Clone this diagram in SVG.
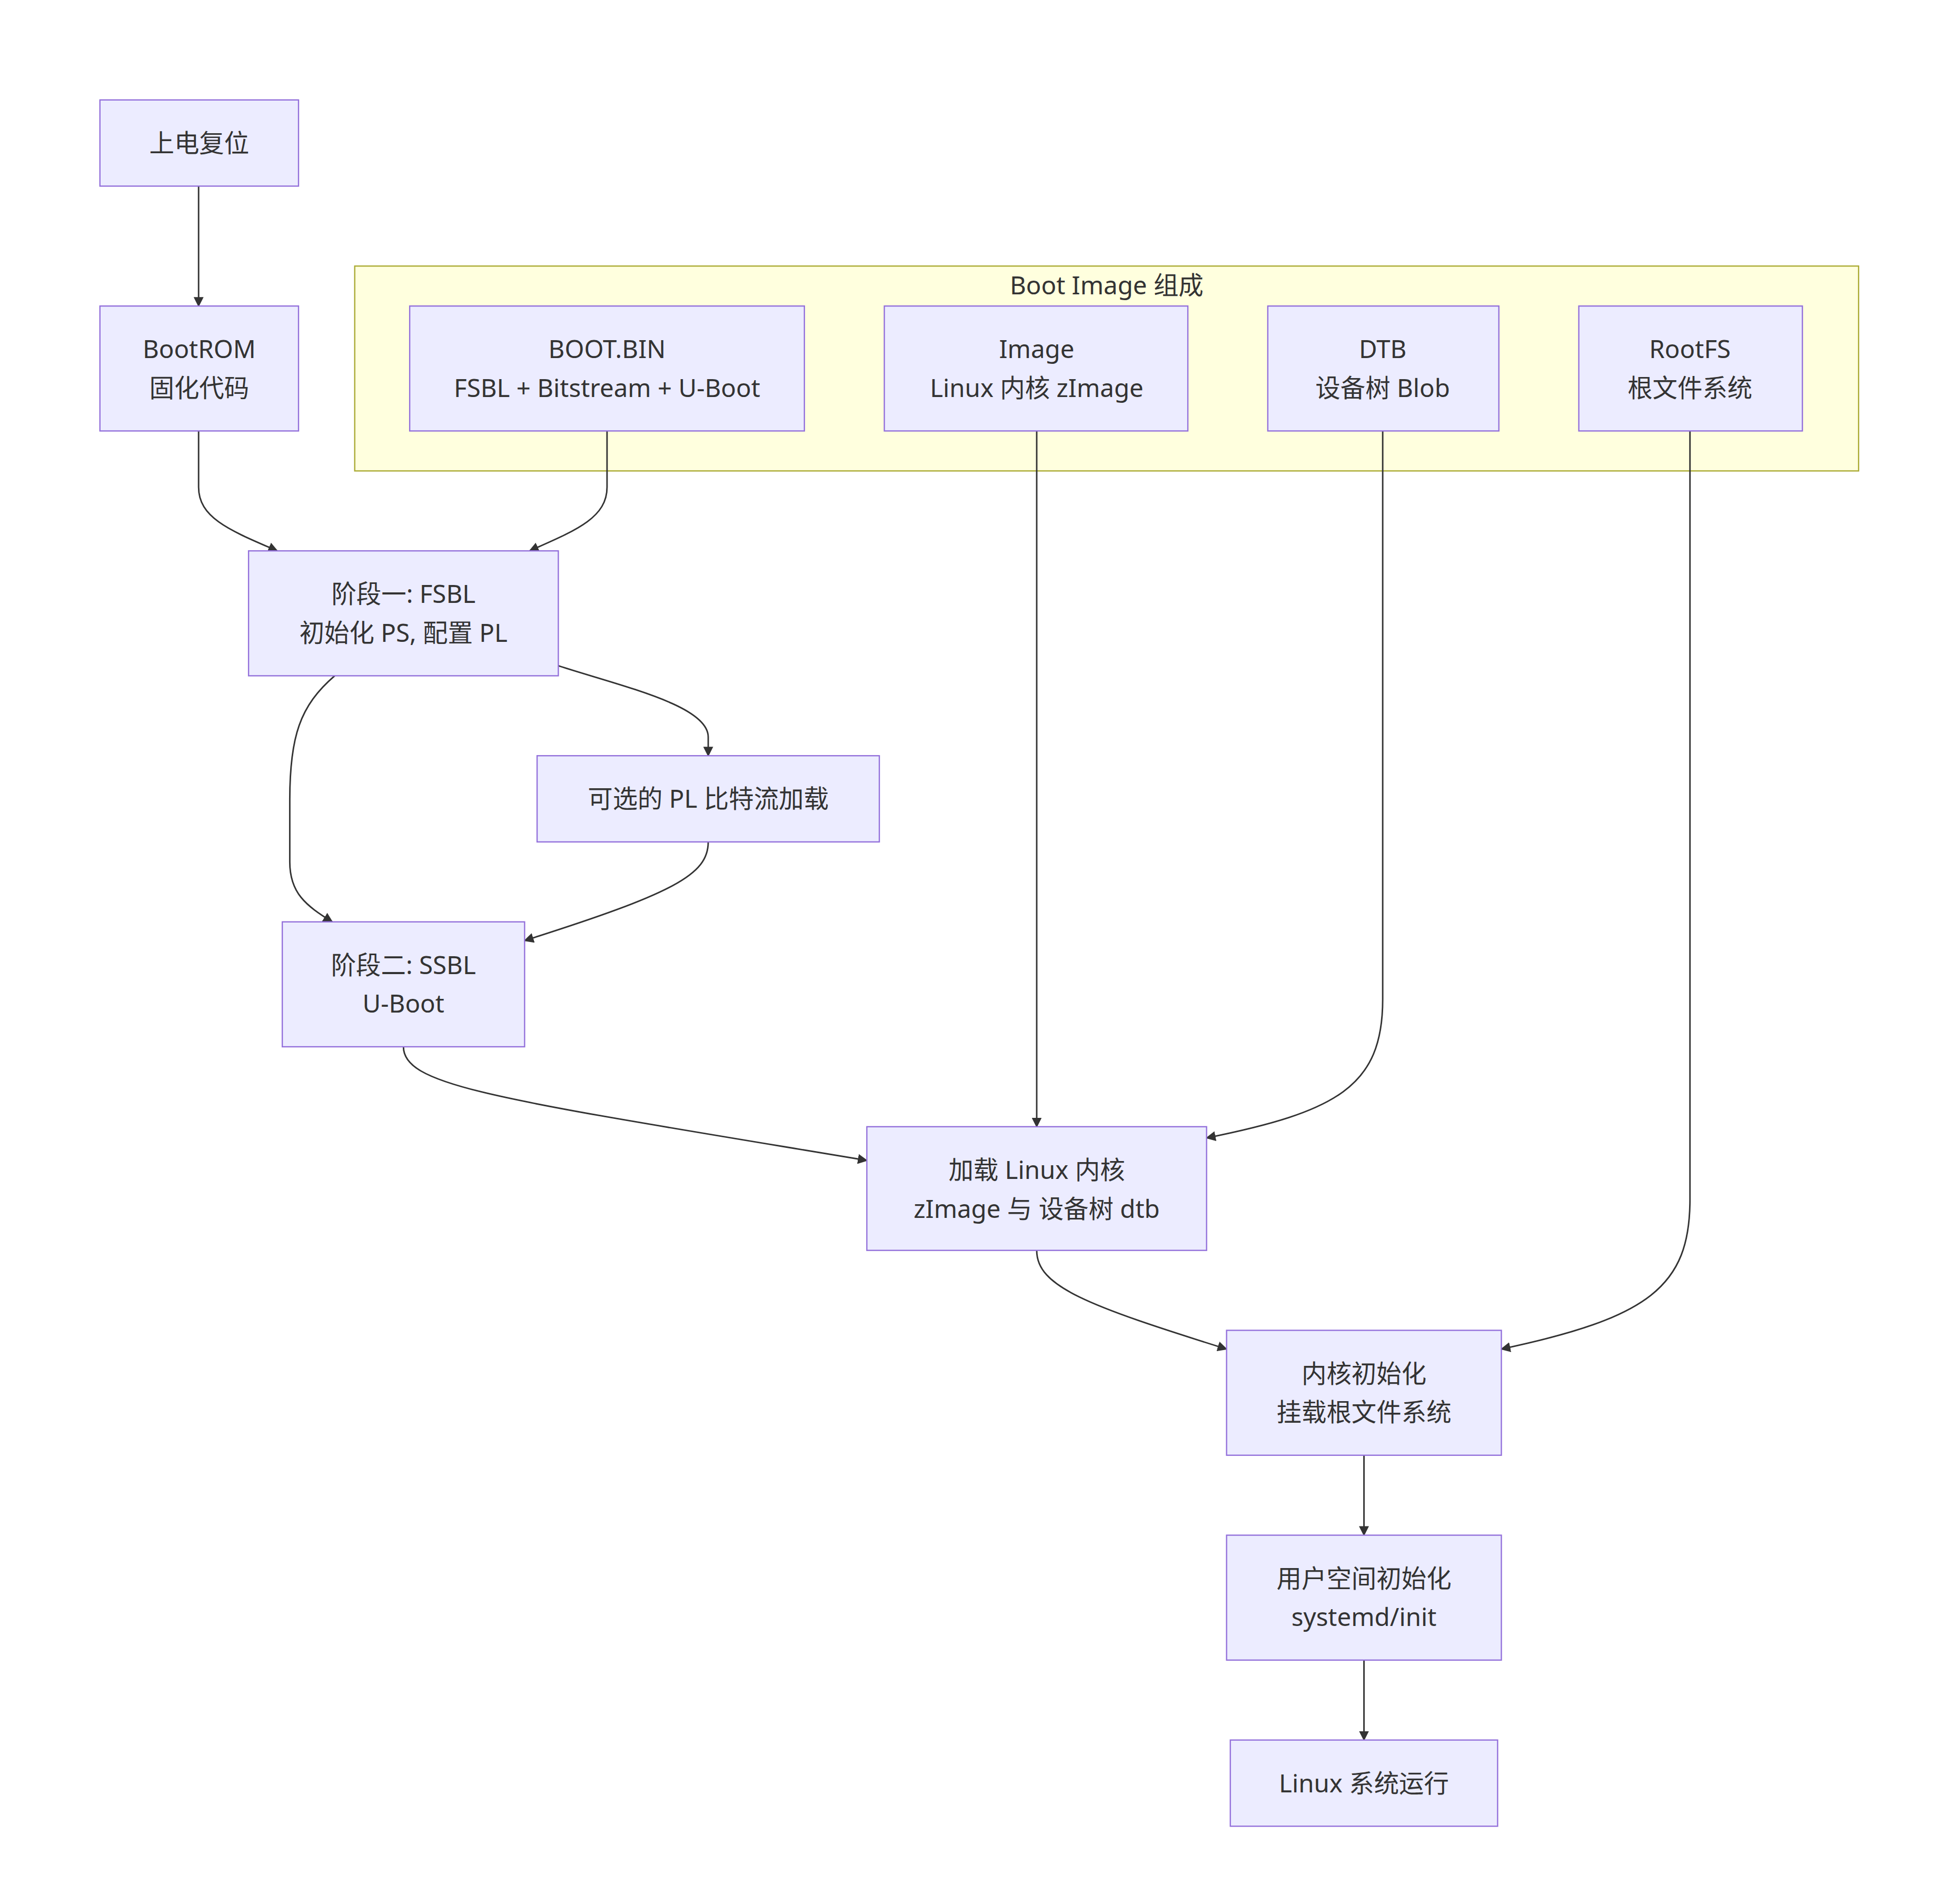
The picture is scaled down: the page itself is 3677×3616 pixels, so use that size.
<svg xmlns="http://www.w3.org/2000/svg" width="3677" height="3616" viewBox="0 0 3677 3616">
<style>
.n{fill:#ECECFF;stroke:#9370DB;stroke-width:1}
.t{font-family:"Noto Sans","Noto Sans CJK SC",sans-serif;font-size:20px;fill:#333;text-anchor:middle;dominant-baseline:central}
.e{fill:none;stroke:#333;stroke-width:1.2}
</style>
<defs><marker id="a" viewBox="0 0 10 10" refX="9" refY="5" markerWidth="8" markerHeight="8" markerUnits="userSpaceOnUse" orient="auto"><path d="M0,0L10,5L0,10z" fill="#333"/></marker></defs>
<rect width="3677" height="3616" fill="#fff"/>
<g transform="scale(2.3723)">
<g id="cluster"><rect x="284" y="213" width="1204" height="164" fill="#ffffde" stroke="#aaaa33" stroke-width="1"/><text class="t" x="886" y="228">Boot Image 组成</text></g>
<g id="edges">
<path class="e" marker-end="url(#a)" d="M159,149L159,245"/>
<path class="e" marker-end="url(#a)" d="M159,345L159,390C159,415 185,425 222,441"/>
<path class="e" marker-end="url(#a)" d="M486,345L486,390C486,415 460,425 424,441"/>
<path class="e" marker-end="url(#a)" d="M268,541C240,565 232,590 232,640L232,690C232,715 245,725 266,738"/>
<path class="e" marker-end="url(#a)" d="M447,533C500,550 567,565 567,590L567,605"/>
<path class="e" marker-end="url(#a)" d="M567,674C567,700 540,715 420,753"/>
<path class="e" marker-end="url(#a)" d="M323,838C323,870 400,880 694,929"/>
<path class="e" marker-end="url(#a)" d="M830,345L830,902"/>
<path class="e" marker-end="url(#a)" d="M1107,345L1107,800C1107,870 1070,890 966,911"/>
<path class="e" marker-end="url(#a)" d="M830,1001C830,1030 870,1045 982,1080"/>
<path class="e" marker-end="url(#a)" d="M1353,345L1353,960C1353,1030 1320,1055 1202,1080"/>
<path class="e" marker-end="url(#a)" d="M1092,1165L1092,1229"/>
<path class="e" marker-end="url(#a)" d="M1092,1329L1092,1393"/>
</g>
<g id="n1"><rect class="n" x="80" y="80" width="159" height="69"/><text class="t" x="159.5" y="114">上电复位</text></g>
<g id="n2"><rect class="n" x="80" y="245" width="159" height="100"/><text class="t" x="159.5" y="279">BootROM</text><text class="t" x="159.5" y="310">固化代码</text></g>
<g id="n3"><rect class="n" x="328" y="245" width="316" height="100"/><text class="t" x="486" y="279">BOOT.BIN</text><text class="t" x="486" y="310">FSBL + Bitstream + U-Boot</text></g>
<g id="n4"><rect class="n" x="708" y="245" width="243" height="100"/><text class="t" x="830" y="279">Image</text><text class="t" x="830" y="310">Linux 内核 zImage</text></g>
<g id="n5"><rect class="n" x="1015" y="245" width="185" height="100"/><text class="t" x="1107" y="279">DTB</text><text class="t" x="1107" y="310">设备树 Blob</text></g>
<g id="n6"><rect class="n" x="1264" y="245" width="179" height="100"/><text class="t" x="1353" y="279">RootFS</text><text class="t" x="1353" y="310">根文件系统</text></g>
<g id="n7"><rect class="n" x="199" y="441" width="248" height="100"/><text class="t" x="323" y="475">阶段一: FSBL</text><text class="t" x="323" y="506">初始化 PS, 配置 PL</text></g>
<g id="n8"><rect class="n" x="430" y="605" width="274" height="69"/><text class="t" x="567" y="639">可选的 PL 比特流加载</text></g>
<g id="n9"><rect class="n" x="226" y="738" width="194" height="100"/><text class="t" x="323" y="772">阶段二: SSBL</text><text class="t" x="323" y="803">U-Boot</text></g>
<g id="n10"><rect class="n" x="694" y="902" width="272" height="99"/><text class="t" x="830" y="936">加载 Linux 内核</text><text class="t" x="830" y="967">zImage 与 设备树 dtb</text></g>
<g id="n11"><rect class="n" x="982" y="1065" width="220" height="100"/><text class="t" x="1092" y="1099">内核初始化</text><text class="t" x="1092" y="1130">挂载根文件系统</text></g>
<g id="n12"><rect class="n" x="982" y="1229" width="220" height="100"/><text class="t" x="1092" y="1263">用户空间初始化</text><text class="t" x="1092" y="1294">systemd/init</text></g>
<g id="n13"><rect class="n" x="985" y="1393" width="214" height="69"/><text class="t" x="1092" y="1427">Linux 系统运行</text></g>
</g>
</svg>
